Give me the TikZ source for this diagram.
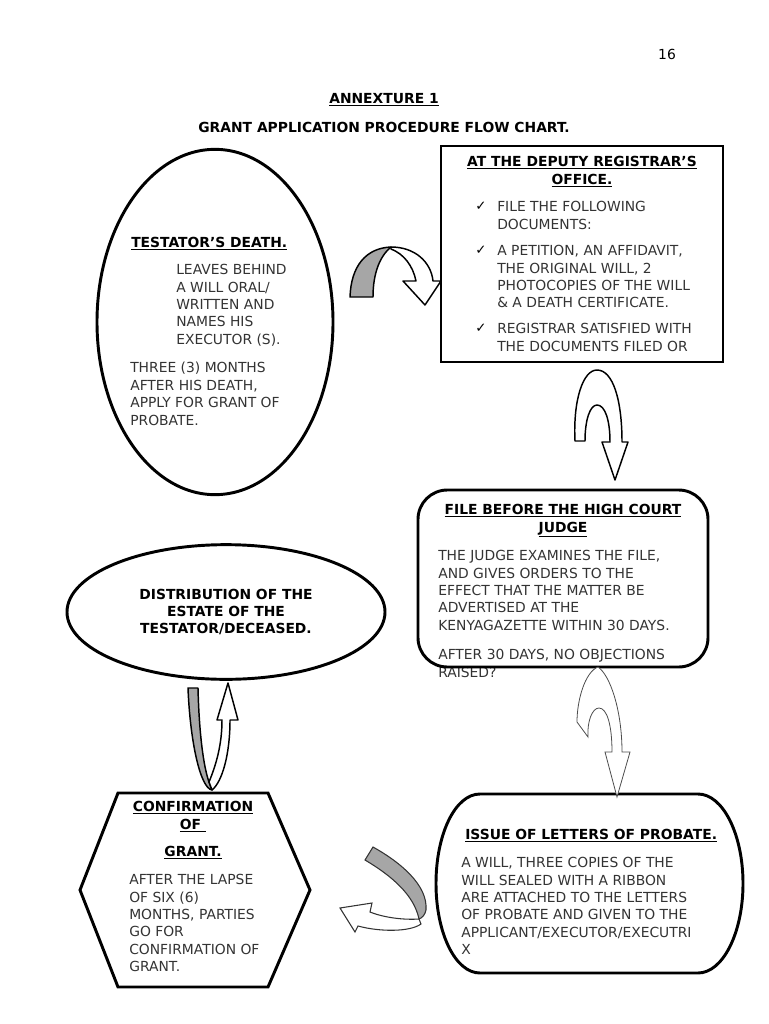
\documentclass[tikz,border=0pt]{standalone}
\usepackage{fontspec}
\setmainfont{DejaVu Sans}
\usetikzlibrary{shapes.geometric}

\begin{document}
\begin{tikzpicture}[x=0.75pt,y=-0.75pt,
  txt/.style={inner sep=0pt, anchor=north west, align=left, font=\fontsize{10.4}{13.1}\selectfont, text=black!80},
  ttl/.style={inner sep=0pt, align=center, font=\fontsize{10.4}{13.1}\selectfont\bfseries},
  box/.style={draw, line width=2.2pt},
  bent/.style={draw, line width=1.1pt, line join=round},
  tick/.style={inner sep=0pt, font=\fontsize{10}{10}\selectfont}]
\useasboundingbox (0,0) rectangle (768,1024);
% Grant application flow chart
\node[inner sep=0pt, font=\fontsize{10.4}{13.1}\selectfont] (page) at (667,54) {16};
\node[ttl] (annex) at (384,100) {\underline{ANNEXTURE 1}};
\node[ttl] (chart) at (384,127) {GRANT APPLICATION PROCEDURE FLOW CHART.};

\node[box, ellipse, minimum width=177pt, minimum height=259pt] (death) at (215,322) {};
\node[ttl, anchor=north west] (deathttl) at (131,237) {\underline{TESTATOR'S DEATH.}};
\node[txt] (will) at (176,264) {LEAVES BEHIND\\A WILL ORAL/\\WRITTEN AND\\NAMES HIS\\EXECUTOR (S).};
\node[txt] (apply) at (130,362) {THREE (3) MONTHS\\AFTER HIS DEATH,\\APPLY FOR GRANT OF\\PROBATE.};

\node[box, minimum width=211.5pt, minimum height=162pt] (office) at (582,254) {};
\node[ttl, anchor=north] (officettl) at (582,156) {\underline{AT THE DEPUTY REGISTRAR'S}\\\underline{OFFICE.}};
\node[txt] (docs) at (497,201) {FILE THE FOLLOWING\\DOCUMENTS:};
\node[txt] (petition) at (497,245) {A PETITION, AN AFFIDAVIT,\\THE ORIGINAL WILL, 2\\PHOTOCOPIES OF THE WILL\\\& A DEATH CERTIFICATE.};
\node[txt] (satisfied) at (497,323) {REGISTRAR SATISFIED WITH\\THE DOCUMENTS FILED OR};
\foreach \y/\n in {206/a,250/b,328/c}
  \node[tick] (tick\n) at (481,\y) {✓};

\node[txt] (examine) at (438,550) {THE JUDGE EXAMINES THE FILE,\\AND GIVES ORDERS TO THE\\EFFECT THAT THE MATTER BE\\ADVERTISED AT THE\\KENYAGAZETTE WITHIN 30 DAYS.};
\node[txt] (raised) at (438,649) {AFTER 30 DAYS, NO OBJECTIONS\\RAISED?};
\node[box, rounded corners=22pt, minimum width=217.5pt, minimum height=132.75pt] (judge) at (563,578.5) {};
\node[ttl, anchor=north] (judgettl) at (563,504) {\underline{FILE BEFORE THE HIGH COURT}\\\underline{JUDGE}};

\node[box, ellipse, minimum width=238.5pt, minimum height=101pt, font=\fontsize{10.4}{13.1}\selectfont\bfseries, align=center] (estate) at (226,612) {DISTRIBUTION OF THE\\ESTATE OF THE\\TESTATOR/DECEASED.};

\draw[box] (80,890) -- (118,793) -- (268,793) -- (310,890) -- (268,987) -- (118,987) -- cycle;
\node[ttl, anchor=north] (confirmttl) at (193,801) {\underline{CONFIRMATION}\\\underline{OF\ }\\[7.5pt]\underline{GRANT.}};
\node[txt] (lapse) at (129,874) {AFTER THE LAPSE\\OF SIX (6)\\MONTHS, PARTIES\\GO FOR\\CONFIRMATION OF\\GRANT.};

\draw[box] (480,794) -- (698,794) .. controls (722.8,794) and (743,834.1) .. (743,883.5) .. controls (743,932.9) and (722.8,973) .. (698,973) -- (480,973) .. controls (455.2,973) and (436,932.9) .. (436,883.5) .. controls (436,834.1) and (455.2,794) .. (480,794) -- cycle;
\node[ttl, anchor=north west] (issuettl) at (465,829) {\underline{ISSUE OF LETTERS OF PROBATE.}};
\node[txt] (letters) at (461,857) {A WILL, THREE COPIES OF THE\\WILL SEALED WITH A RIBBON\\ARE ATTACHED TO THE LETTERS\\OF PROBATE AND GIVEN TO THE\\APPLICANT/EXECUTOR/EXECUTRI\\X};

% curved block arrows
\draw[bent, fill=black!35] (350,297) .. controls (351,266) and (366,248) .. (391,247) .. controls (380,256) and (373,273) .. (373,297) -- cycle;
\draw[bent, fill=white] (391,247) .. controls (415,247) and (431,262) .. (433,281) -- (441,281) -- (425,305) -- (403,281) -- (416,281) .. controls (413,266) and (404,254) .. (391,249) -- cycle;

\draw[bent, fill=white] (575,441) .. controls (573,400) and (583,370) .. (597,370) .. controls (613,370) and (622,400) .. (622,442) -- (628,442) -- (615,480) -- (602,442) -- (610,442) .. controls (610,420) and (605,405) .. (597,405) .. controls (590,405) and (585,420) .. (585,441) -- cycle;

\draw[draw=black!70, line width=0.6pt, fill=white] (598,667) .. controls (610,675) and (622,710) .. (622,752) -- (630,752) -- (617,797) -- (605,752) -- (612,752) .. controls (612,725) and (607,708) .. (599,708) .. controls (592,708) and (587,722) .. (588,737) -- (577,722) .. controls (577,700) and (585,672) .. (598,667) -- cycle;

\draw[bent, fill=black!35] (188,688) -- (198,688) .. controls (199,730) and (203,765) .. (209,782) -- (212,790) .. controls (200,788) and (190,740) .. (188,688) -- cycle;
\draw[bent, fill=white] (209,782) .. controls (216,765) and (222,745) .. (222,720) -- (217,720) -- (228,683) -- (238,720) -- (230,720) .. controls (230,755) and (222,782) .. (212,790) -- cycle;

\draw[draw=black!80, line width=0.8pt, fill=black!35] (365,860) -- (373,847) .. controls (400,862) and (428,885) .. (426,910) .. controls (425,915) and (422,918) .. (419,919) .. controls (414,895) and (392,876) .. (365,860) -- cycle;
\draw[draw=black!80, line width=0.8pt, fill=white] (419,919) .. controls (405,920) and (385,918) .. (370,912) -- (372,903) -- (340,908) -- (355,932) -- (358,926) .. controls (380,932) and (410,932) .. (421,924) -- cycle;
\end{tikzpicture}
\end{document}
